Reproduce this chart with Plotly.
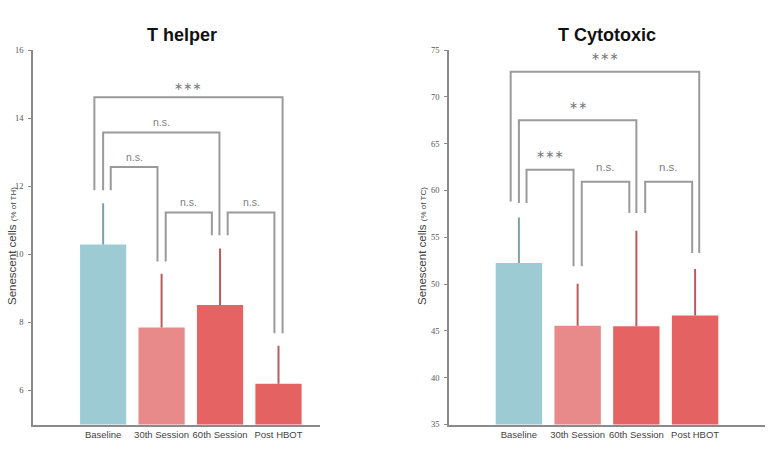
import plotly.graph_objects as go

categories = ["Baseline", "30th Session", "60th Session", "Post HBOT"]
th_values = [10.29, 7.85, 8.51, 6.20]
th_err = [1.21, 1.58, 1.66, 1.11]
tc_values = [52.25, 45.56, 45.49, 46.63]
tc_err = [4.85, 4.48, 10.21, 4.97]

bar_colors = ["#9dcbd3", "#e88a8a", "#e56363", "#e56262"]
err_colors = ["#7aa3a8", "#b85c5c", "#b85c5c", "#b85c5c"]

# brackets: (x1, x2, y_top, y_bottom_left, y_bottom_right, label)
th_brackets = [
    (-0.15, 3.07, 14.61, 11.88, 7.68, "***"),
    (0.00, 1.99, 13.58, 11.88, 10.56, "n.s."),
    (0.13, 0.93, 12.56, 11.88, 9.79, "n.s."),
    (1.07, 1.86, 11.23, 9.79, 10.56, "n.s."),
    (2.13, 2.93, 11.23, 10.56, 7.68, "n.s."),
]
tc_brackets = [
    (-0.14, 3.07, 72.69, 58.82, 53.31, "***"),
    (0.00, 2.00, 67.50, 58.65, 57.58, "**"),
    (0.13, 0.93, 62.20, 58.65, 51.89, "***"),
    (1.07, 1.88, 60.92, 51.89, 57.58, "n.s."),
    (2.15, 2.95, 60.92, 57.58, 53.31, "n.s."),
]

fig = go.Figure()

def add_panel(values, errs, brackets, xref, yref, star_shift, ns_shift, ns_size):
    for i, (v, e) in enumerate(zip(values, errs)):
        fig.add_trace(go.Bar(
            x=[i], y=[v], width=0.79, marker=dict(color=bar_colors[i], line=dict(width=0)),
            error_y=dict(type="data", symmetric=False, array=[e], arrayminus=[0],
                         color=err_colors[i], thickness=2, width=0),
            xaxis=xref, yaxis=yref, showlegend=False, hoverinfo="skip"))
    for (x1, x2, yt, yb1, yb2, lab) in brackets:
        fig.add_trace(go.Scatter(
            x=[x1, x1, x2, x2], y=[yb1, yt, yt, yb2], mode="lines",
            line=dict(color="#9a9a9a", width=2), xaxis=xref, yaxis=yref,
            showlegend=False, hoverinfo="skip"))
        star = lab.startswith("*")
        if star:
            fig.add_annotation(
                x=(x1 + x2) / 2, y=yt, xref=xref, yref=yref,
                text="\u2217" * len(lab), showarrow=False,
                xanchor="center", yanchor="middle", yshift=star_shift,
                font=dict(size=11, color="#7a7a7a", family="DejaVu Sans"))
        else:
            fig.add_annotation(
                x=(x1 + x2) / 2, y=yt, xref=xref, yref=yref, text=lab, showarrow=False,
                xanchor="center", yanchor="middle", yshift=ns_shift,
                font=dict(size=ns_size, color="#808080", family="Liberation Sans"))

add_panel(th_values, th_err, th_brackets, "x", "y", 11, 10, 10.5)
add_panel(tc_values, tc_err, tc_brackets, "x2", "y2", 15, 15, 11.5)

axis_common = dict(showline=True, linecolor="#8a8a8a", linewidth=1.5, showgrid=False,
                   zeroline=False, automargin=False)
tickfont = dict(size=8.5, color="#555555", family="Liberation Serif")
catfont = dict(size=9.5, color="#444444", family="Liberation Sans")

fig.update_layout(
    width=768, height=465, margin=dict(l=0, r=0, t=0, b=0, pad=0, autoexpand=False),
    plot_bgcolor="white", paper_bgcolor="white", barmode="overlay",
    xaxis=dict(domain=[33/768, 320/768], range=[-1.2, 3.71], tickvals=list(range(4)),
               ticktext=categories, ticks="", tickfont=catfont, anchor="y", **axis_common),
    yaxis=dict(domain=[1-424.5/465, 1-50/465], range=[5, 16], tickvals=[6, 8, 10, 12, 14, 16],
               ticks="outside", ticklen=3, tickcolor="#8a8a8a", tickfont=tickfont,
               ticklabelstandoff=3, anchor="x", **axis_common),
    xaxis2=dict(domain=[449/768, 765/768], range=[-1.19, 4.19], tickvals=list(range(4)),
                ticktext=categories, ticks="", tickfont=catfont, anchor="y2", **axis_common),
    yaxis2=dict(domain=[1-424.5/465, 1-50/465], range=[35, 75],
                tickvals=[35, 40, 45, 50, 55, 60, 65, 70, 75],
                ticks="outside", ticklen=3, tickcolor="#8a8a8a", tickfont=tickfont,
                ticklabelstandoff=3, anchor="x2", **axis_common),
)

fig.add_annotation(x=182/768, y=1-35/465, xref="paper", yref="paper", text="<b>T helper</b>",
                   xanchor="center", yanchor="middle",
                   showarrow=False, font=dict(size=18, color="#111111", family="Liberation Sans"))
fig.add_annotation(x=607/768, y=1-35/465, xref="paper", yref="paper", text="<b>T Cytotoxic</b>",
                   xanchor="center", yanchor="middle",
                   showarrow=False, font=dict(size=18, color="#111111", family="Liberation Sans"))

fig.add_annotation(x=12/768, y=1-246/465, xref="paper", yref="paper", textangle=-90,
                   xanchor="center", yanchor="middle",
                   text='Senescent cells <span style="font-size:8px">(% of TH)</span>',
                   showarrow=False, font=dict(size=11.5, color="#444444", family="Liberation Sans"))
fig.add_annotation(x=422/768, y=1-246/465, xref="paper", yref="paper", textangle=-90,
                   xanchor="center", yanchor="middle",
                   text='Senescent cells <span style="font-size:8px">(% of TC)</span>',
                   showarrow=False, font=dict(size=11.5, color="#444444", family="Liberation Sans"))

fig.write_html("out.html")
